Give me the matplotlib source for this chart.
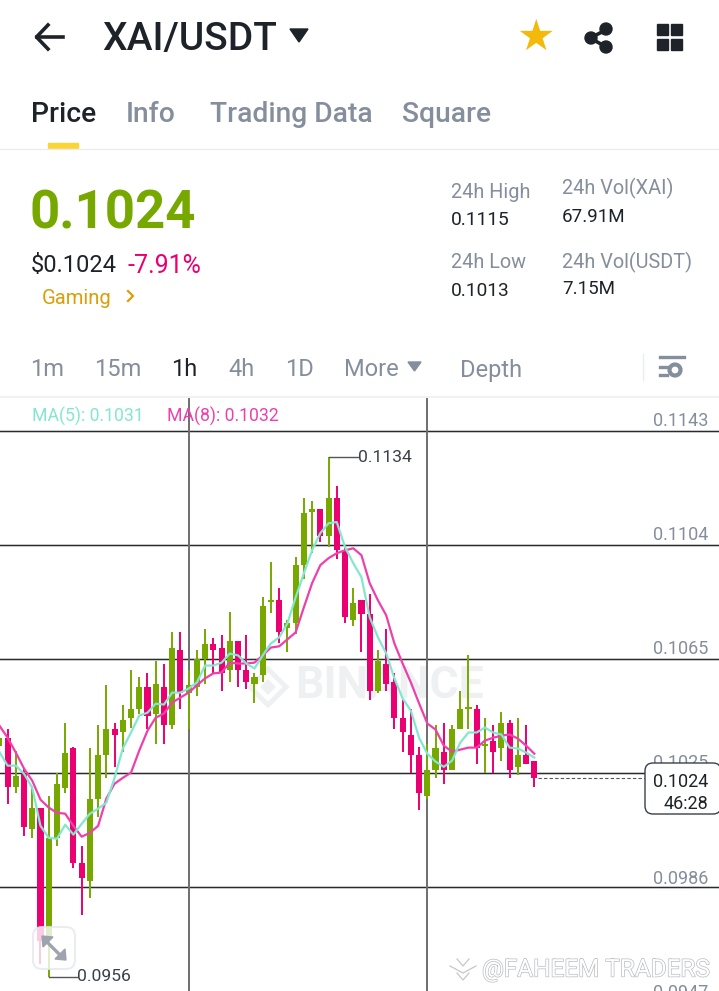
"""
XAI/USDT 1h candlestick screen, redrawn with matplotlib
"""

import matplotlib
matplotlib.use('Agg')  # Non-interactive backend
import matplotlib.pyplot as plt
import matplotlib.patheffects as pe
from matplotlib.patches import FancyBboxPatch, Polygon, Circle, Rectangle

# Candles, oldest first
opens = [0.10349, 0.10376, 0.10207, 0.10252, 0.10063, 0.10136, 0.09684, 0.10032, 0.10204, 0.10339, 0.09946,
         0.09884, 0.10167, 0.10318, 0.10407, 0.10397, 0.10445, 0.10476, 0.10549, 0.10459, 0.10549, 0.10418,
         0.10679, 0.10531, 0.10549, 0.10648, 0.10697, 0.10686, 0.10610, 0.10707, 0.10607, 0.10559, 0.10590,
         0.10841, 0.10848, 0.10752, 0.10769, 0.10969, 0.11151, 0.11161, 0.11069, 0.11199, 0.11020, 0.10779,
         0.10848, 0.10800, 0.10538, 0.10628, 0.10566, 0.10445, 0.10386, 0.10318, 0.10177, 0.10266, 0.10328,
         0.10266, 0.10407, 0.10476, 0.10476, 0.10349, 0.10366, 0.10339, 0.10428, 0.10276, 0.10318, 0.10297]
highs = [0.10418, 0.10407, 0.10332, 0.10273, 0.10211, 0.10136, 0.10177, 0.10256, 0.10428, 0.10345, 0.10005,
         0.10339, 0.10418, 0.10556, 0.10428, 0.10487, 0.10607, 0.10586, 0.10597, 0.10638, 0.10628, 0.10738,
         0.10738, 0.10607, 0.10679, 0.10748, 0.10717, 0.10728, 0.10807, 0.10707, 0.10728, 0.10597, 0.10858,
         0.10979, 0.10890, 0.10779, 0.10996, 0.11199, 0.11189, 0.11161, 0.11340, 0.11241, 0.11038, 0.10890,
         0.10848, 0.10869, 0.10676, 0.10748, 0.10597, 0.10507, 0.10476, 0.10345, 0.10356, 0.10418, 0.10428,
         0.10418, 0.10538, 0.10659, 0.10487, 0.10445, 0.10418, 0.10466, 0.10438, 0.10445, 0.10418, 0.10297]
lows = [0.10332, 0.10149, 0.10187, 0.10039, 0.10032, 0.09598, 0.09554, 0.10005, 0.10187, 0.09929, 0.09767,
        0.09826, 0.10105, 0.10238, 0.10276, 0.10328, 0.10411, 0.10459, 0.10407, 0.10356, 0.10356, 0.10407,
        0.10476, 0.10407, 0.10518, 0.10559, 0.10597, 0.10538, 0.10566, 0.10549, 0.10545, 0.10497, 0.10566,
        0.10803, 0.10703, 0.10669, 0.10731, 0.10920, 0.11010, 0.11048, 0.11031, 0.10989, 0.10769, 0.10759,
        0.10669, 0.10507, 0.10528, 0.10538, 0.10407, 0.10328, 0.10256, 0.10129, 0.10167, 0.10238, 0.10218,
        0.10266, 0.10407, 0.10407, 0.10287, 0.10256, 0.10256, 0.10297, 0.10238, 0.10249, 0.10287, 0.10207]
closes = [0.10376, 0.10207, 0.10245, 0.10070, 0.10136, 0.09677, 0.10032, 0.10218, 0.10325, 0.09946, 0.09895,
          0.10167, 0.10318, 0.10407, 0.10386, 0.10438, 0.10476, 0.10549, 0.10449, 0.10559, 0.10418, 0.10686,
          0.10531, 0.10556, 0.10648, 0.10697, 0.10679, 0.10597, 0.10707, 0.10610, 0.10569, 0.10586, 0.10828,
          0.10848, 0.10738, 0.10769, 0.10969, 0.11148, 0.11161, 0.11069, 0.11199, 0.11020, 0.10790, 0.10838,
          0.10800, 0.10538, 0.10638, 0.10559, 0.10445, 0.10397, 0.10318, 0.10187, 0.10266, 0.10339, 0.10266,
          0.10407, 0.10476, 0.10483, 0.10339, 0.10356, 0.10328, 0.10428, 0.10266, 0.10318, 0.10287, 0.10238]

# Moving averages, one value per candle
ma5 = [0.10328, 0.10280, 0.10280, 0.10252, 0.10204, 0.10073, 0.10032, 0.10029, 0.10077, 0.10043, 0.10080,
       0.10115, 0.10132, 0.10153, 0.10238, 0.10339, 0.10394, 0.10452, 0.10462, 0.10493, 0.10490, 0.10531,
       0.10531, 0.10545, 0.10566, 0.10624, 0.10624, 0.10634, 0.10665, 0.10659, 0.10631, 0.10614, 0.10659,
       0.10700, 0.10721, 0.10769, 0.10858, 0.10941, 0.11020, 0.11079, 0.11113, 0.11117, 0.11031, 0.10976,
       0.10927, 0.10790, 0.10721, 0.10666, 0.10580, 0.10511, 0.10469, 0.10376, 0.10321, 0.10294, 0.10276,
       0.10297, 0.10359, 0.10394, 0.10394, 0.10411, 0.10394, 0.10387, 0.10342, 0.10339, 0.10325, 0.10308]
ma8 = [0.10418, 0.10376, 0.10325, 0.10270, 0.10228, 0.10163, 0.10136, 0.10118, 0.10115, 0.10073, 0.10036,
       0.10049, 0.10073, 0.10167, 0.10218, 0.10238, 0.10256, 0.10332, 0.10400, 0.10445, 0.10459, 0.10497,
       0.10514, 0.10531, 0.10556, 0.10580, 0.10597, 0.10600, 0.10634, 0.10631, 0.10631, 0.10634, 0.10659,
       0.10686, 0.10690, 0.10714, 0.10738, 0.10824, 0.10907, 0.10969, 0.10993, 0.11010, 0.11020, 0.11027,
       0.11003, 0.10907, 0.10848, 0.10797, 0.10700, 0.10631, 0.10566, 0.10494, 0.10425, 0.10404, 0.10349,
       0.10328, 0.10335, 0.10342, 0.10342, 0.10366, 0.10376, 0.10383, 0.10387, 0.10373, 0.10349, 0.10321]

# Price axis
grid_prices = [0.1143, 0.11038, 0.10647, 0.10255, 0.09863]
grid_labels = ['0.1143', '0.1104', '0.1065', '0.1025', '0.0986']
last_price = 0.10238
peak_price = 0.1134
floor_price = 0.0956

GREEN = '#76A800'
RED = '#EA0070'
TEAL = '#85E6CF'
PINK = '#EE40AC'
DARK = '#1E2329'
GREY = '#848E9C'
FONT = 'Roboto'

plt.rcParams['font.family'] = [FONT, 'DejaVu Sans']

fig = plt.figure(figsize=(7.19, 9.91), dpi=100, facecolor='white')

# Chart area: 398px down to the bottom edge
ax = fig.add_axes([0, 0, 1, (991 - 398) / 991])
px_per_candle = 8.23
ax.set_xlim(65 - 534.3 / px_per_candle, 65 + (719 - 534.3) / px_per_candle)
price_per_px = (grid_prices[0] - grid_prices[-1]) / (887 - 431)
ax.set_ylim(grid_prices[0] - 560 * price_per_px, grid_prices[0] + 33 * price_per_px)
ax.axis('off')

# Everything else is placed in screen pixels
ui = fig.add_axes([0, 0, 1, 1])
ui.set_xlim(0, 719)
ui.set_ylim(991, 0)
ui.axis('off')
ui.patch.set_alpha(0)

# BINANCE watermark sits under the candles, so it goes on the chart axes
ax.text(295, 686, 'BINANCE', fontsize=32, fontweight='bold', color='#EEF0F2', va='center', zorder=0.5,
        transform=ui.transData)
ax.add_patch(Polygon([(250, 687), (268, 669), (286, 687), (268, 705)], closed=True, fill=False, edgecolor='#EEF0F2',
                     linewidth=3.5, zorder=0.5, transform=ui.transData))
ax.add_patch(Polygon([(268, 680), (275, 687), (268, 694), (261, 687)], closed=True, color='#EEF0F2', zorder=0.5,
                     transform=ui.transData))

for price in grid_prices:
    ax.axhline(price, color='#D0D3D6', linewidth=1.8, zorder=1)
    ax.axhline(price, color='#2B2B2B', linewidth=0.9, zorder=1.1)
for i_line in [22.99, 52.02]:
    ax.axvline(i_line, color='#6E6E6E', linewidth=1.4, zorder=1.2)

xs = list(range(len(opens)))
colors = [GREEN if c >= o else RED for o, c in zip(opens, closes)]
ax.vlines(xs, lows, highs, colors=colors, linewidth=1.4, zorder=3)
ax.bar(xs, [abs(c - o) for o, c in zip(opens, closes)], bottom=[min(o, c) for o, c in zip(opens, closes)],
       width=0.74, color=colors, linewidth=0, zorder=3)
ax.plot(xs, ma8, color=PINK, linewidth=1.6, zorder=4)
ax.plot(xs, ma5, color=TEAL, linewidth=1.6, zorder=4.1)

# High / low markers and the last price line
ax.plot([40, 43.6], [peak_price, peak_price], color='#555555', linewidth=1.0, zorder=4)
ax.text(43.6, peak_price, '0.1134', fontsize=12.6, color='#3A4048', va='center', zorder=5)
ax.plot([6, 9.4], [lows[6], lows[6]], color='#555555', linewidth=1.0, zorder=4)
ax.text(9.4, lows[6], f'{floor_price:.4f}', fontsize=12.6, color='#3A4048', va='center', zorder=5)
ax.plot([65.4, 79], [last_price, last_price], color='#555555', linewidth=0.8, dashes=(3, 2), zorder=2)

# Axis labels
for y, label in zip([421.5, 535.5, 649.5, 763.5, 878.5], grid_labels):
    ui.text(708, y, label, fontsize=13, color=GREY, ha='right', va='center', zorder=2)
ui.text(708, 993, '0.0947', fontsize=13, color=GREY, ha='right', va='center', zorder=2, clip_on=True)

# Account watermark
ui.text(482, 970, '@FAHEEM TRADERS', fontsize=17.5, color='white', va='center', zorder=6,
        path_effects=[pe.withStroke(linewidth=1.0, foreground='#B8BCC2')])
for off in [-7, 0, 7]:
    ui.plot([450 + abs(off), 463, 476 - abs(off)], [966 + off, 973 + off, 966 + off], color='#C4C7CC',
            linewidth=0.9, zorder=6)

# Expand button over the chart
ui.add_patch(FancyBboxPatch((33, 927), 42, 42, boxstyle='round,pad=0,rounding_size=9', facecolor='white',
                            edgecolor='#E6E8EC', linewidth=1.5, alpha=0.8, zorder=6))
ui.plot([46, 62], [941, 957], color='#9EA4AD', linewidth=2.4, zorder=7)
ui.add_patch(Polygon([(42, 936), (53, 937), (43, 947)], closed=True, color='#9EA4AD', zorder=7))
ui.add_patch(Polygon([(66, 960), (55, 959), (65, 949)], closed=True, color='#9EA4AD', zorder=7))

# Last price box
ui.add_patch(FancyBboxPatch((645, 763), 76, 51, boxstyle='round,pad=0,rounding_size=8', facecolor='white',
                            edgecolor='#3A4048', linewidth=1.0, zorder=6))
ui.text(708, 782, '0.1024', fontsize=13, color=DARK, ha='right', va='center', zorder=7)
ui.text(708, 804, '46:28', fontsize=13, color=DARK, ha='right', va='center', zorder=7)

# Header
ui.plot([37, 63], [37, 37], color=DARK, linewidth=2.6, zorder=5)
ui.plot([48, 36.5, 48], [25, 37, 49], color=DARK, linewidth=2.6, zorder=5)
ui.text(102, 39.5, 'XAI/USDT', fontsize=28, fontweight='medium', color=DARK, va='center')
ui.add_patch(Polygon([(290, 29), (308, 29), (299, 42)], closed=True, color=DARK))
ui.text(535, 38, '★', fontsize=31, color='#F3B90B', ha='center', va='center', family=['DejaVu Sans'])
ui.plot([610, 590, 610], [28, 38, 49], color=DARK, linewidth=2.6)
for cx, cy, r in [(606, 29, 6), (591, 38, 6), (606, 47, 6)]:
    ui.add_patch(Circle((cx, cy), r, color=DARK))
for gx, gy in [(657, 24), (671, 24), (657, 39), (671, 39)]:
    ui.add_patch(Rectangle((gx, gy), 10.5, 10.5, color=DARK))

# Tabs
for x, label, col in [(31, 'Price', DARK), (126, 'Info', GREY), (210, 'Trading Data', GREY), (402, 'Square', GREY)]:
    ui.text(x, 114, label, fontsize=20.3, fontweight='medium', color=col, va='center')
ui.add_patch(Rectangle((48, 143), 30, 5, color='#FCD535'))
ui.plot([0, 719], [149, 149], color='#EAECEF', linewidth=1)

# Price block
ui.text(30, 214, '0.1024', fontsize=38, fontweight='bold', color=GREEN, va='center')
ui.text(31, 266, '$0.1024', fontsize=17, color=DARK, va='center')
ui.text(127, 266, '-7.91%', fontsize=18, color=RED, va='center')
ui.text(42, 298, 'Gaming', fontsize=14.5, color='#DB9E08', va='center')
ui.plot([128, 133, 128], [291, 296, 301], color='#DB9E08', linewidth=1.6)

for x, y, label, col, size in [(451, 192, '24h High', GREY, 14.3), (451, 220, '0.1115', DARK, 13.8),
                               (451, 263, '24h Low', GREY, 14.3), (451, 291, '0.1013', DARK, 13.8),
                               (562, 188, '24h Vol(XAI)', GREY, 14.3), (562, 217, '67.91M', DARK, 13.5),
                               (562, 262, '24h Vol(USDT)', GREY, 14.3), (562, 289, '7.15M', DARK, 13.5)]:
    ui.text(x, y, label, fontsize=size, color=col, va='center')

# Interval bar
for x, label, col in [(30, '1m', GREY), (94, '15m', GREY), (171, '1h', DARK), (228, '4h', GREY), (285, '1D', GREY),
                      (344, 'More', GREY), (460, 'Depth', GREY)]:
    ui.text(x, 370, label, fontsize=17, color=col, va='center')
ui.add_patch(Polygon([(408, 362), (421, 362), (414.5, 371)], closed=True, color=GREY))
ui.plot([643, 643], [354, 380], color='#EAECEF', linewidth=1)
ui.plot([660, 684], [357, 357], color=GREY, linewidth=2.4)
ui.plot([660, 667], [367, 367], color=GREY, linewidth=2.4)
ui.plot([660, 667], [375, 375], color=GREY, linewidth=2.4)
ui.add_patch(Circle((675, 370), 5.5, facecolor='white', edgecolor=GREY, linewidth=3))
ui.plot([0, 719], [397, 397], color='#F0F1F3', linewidth=1.5)

# Moving average legend
ui.text(32, 416, 'MA(5): 0.1031', fontsize=12.7, color=TEAL, va='center', zorder=5)
ui.text(167, 416, 'MA(8): 0.1032', fontsize=12.7, color=PINK, va='center', zorder=5)

fig.savefig('out.png', dpi=100)
